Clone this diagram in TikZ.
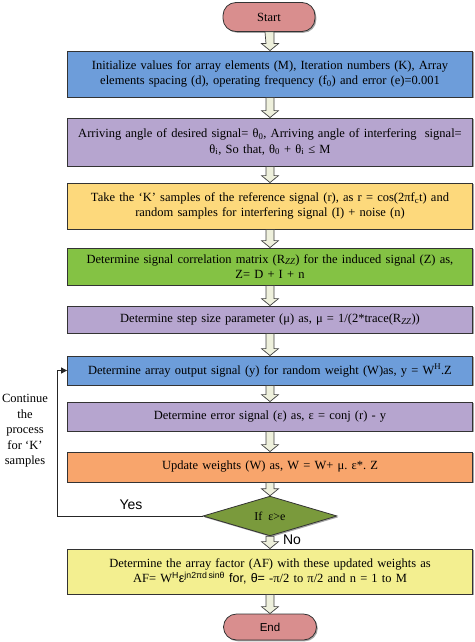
\documentclass[tikz,border=0pt]{standalone}
\usepackage{fontspec}
\setmainfont{Liberation Serif}
\setsansfont{Liberation Sans}
\usetikzlibrary{arrows.meta, calc, positioning, shapes.geometric, shadows}
\frenchspacing

\definecolor{termred}{HTML}{D98E8E}
\definecolor{stepblue}{HTML}{6D9DDA}
\definecolor{steppurple}{HTML}{B6A5CF}
\definecolor{stepgold}{HTML}{FDD97C}
\definecolor{stepgreen}{HTML}{84C244}
\definecolor{steporange}{HTML}{F8A56C}
\definecolor{stepolive}{HTML}{7A9A3C}
\definecolor{steplemon}{HTML}{F3EF90}
\definecolor{arrowcream}{HTML}{EEF0DC}

\begin{document}
\begin{tikzpicture}[x=1pt, y=-1pt,
  box/.style={draw=black!80, line width=0.8pt, minimum width=405pt, text width=399pt,
    align=center, inner sep=0pt, font=\fontsize{12.5}{15.5}\selectfont,
    drop shadow={shadow xshift=1.3pt, shadow yshift=-1.3pt, fill=black!50, opacity=.7}},
  term/.style={draw=black!80, line width=0.8pt, fill=termred, rounded corners=13pt,
    minimum width=92pt, inner sep=0pt,
    drop shadow={shadow xshift=1.3pt, shadow yshift=-1.3pt, fill=black!50, opacity=.7}},
  blk/.style={draw=black!75, line width=0.7pt, fill=arrowcream,
    to path={($(\tikztostart.south)+(-4pt,0)$) -- ($(\tikztotarget.north)+(-4pt,7pt)$)
      -- ++(-4.5pt,0) -- (\tikztotarget.north) -- ++(8.5pt,7pt) -- ++(-4.5pt,0)
      |- ($(\tikztostart.south)+(4pt,0)$) -- cycle}},
  lbl/.style={font=\sffamily\fontsize{14}{15}\selectfont},
  backline/.style={draw=black!85, line width=0.9pt, -{Triangle[length=6pt,width=6pt]}}
]
\useasboundingbox (0,0) rectangle (474,642);

% terminals
\node[term, minimum height=29pt, font=\fontsize{12.5}{14}\selectfont] (start) at (269,17) {Start};
\node[term, minimum height=26pt, minimum width=93pt, font=\sffamily\fontsize{11.5}{13}\selectfont] (end) at (270,627) {End};

% process steps
\node[box, fill=stepblue, minimum height=46pt] (init) at (270,74)
  {Initialize values for array elements (M), Iteration numbers (K), Array\\
   elements spacing (d), operating frequency (f\textsubscript{0}) and error (e)=0.001};
\node[box, fill=steppurple, minimum height=48pt] (angle) at (270,142)
  {Arriving angle of desired signal= θ\textsubscript{0}, Arriving angle of interfering\ \ signal=\\
   θ\textsubscript{i}, So that, θ\textsubscript{0} + θ\textsubscript{i} ≤ M};
\node[box, fill=stepgold, minimum height=46pt] (samples) at (270,206)
  {Take the ‘K’ samples of the reference signal (r), as r = cos(2πf\textsubscript{c}t) and\\
   random samples for interfering signal (I) + noise (n)};
\node[box, fill=stepgreen, minimum height=37pt] (corr) at (270,266.5)
  {Determine signal correlation matrix (R\textsubscript{\itshape ZZ}) for the induced signal (Z) as,\\
   Z= D + I + n};
\node[box, fill=steppurple, minimum height=27pt] (stepsize) at (270,319.5)
  {Determine step size parameter (μ) as, μ = 1/(2*trace(R\textsubscript{\itshape ZZ}))};
\node[box, fill=stepblue, minimum height=29pt] (output) at (270,370.5)
  {Determine array output signal (y) for random weight (W)as, y = W\textsuperscript{H}.Z};
\node[box, fill=steppurple, minimum height=29pt] (error) at (270,416.5)
  {Determine error signal (ε) as, ε = conj (r) - y};
\node[box, fill=steporange, minimum height=30pt] (update) at (270,467)
  {Update weights (W) as, W = W+ μ. ε*. Z};
\node[draw=black!80, line width=0.8pt, fill=stepolive, diamond, minimum width=134pt,
  minimum height=36pt, inner sep=0pt, font=\fontsize{12}{13}\selectfont,
  drop shadow={shadow xshift=1.3pt, shadow yshift=-1.3pt, fill=black!50, opacity=.7}]
  (cond) at (270,516) {If\ \ ε>e};
\node[box, fill=steplemon, minimum height=45pt] (factor) at (270,571.5)
  {Determine the array factor (AF) with these updated weights as\\
   AF= W\textsuperscript{\sffamily H}{\sffamily ε}\textsuperscript{\sffamily jn2πd\,sinθ}
   {\sffamily for, θ=} -π/2 to π/2 and n = 1 to M};

% block arrows
\draw[blk] (start) to (init);
\draw[blk] (init) to (angle);
\draw[blk] (angle) to (samples);
\draw[blk] (samples) to (corr);
\draw[blk] (corr) to (stepsize);
\draw[blk] (stepsize) to (output);
\draw[blk] (output) to (error);
\draw[blk] (error) to (update);
\draw[blk] (update) to (cond);
\draw[blk] (cond) to (factor);
\draw[blk] (factor) to (end);

% loop back
\coordinate (turn) at (57,516);
\draw[backline] (cond.west) -- (turn) |- (output.west);
\node[align=center, font=\fontsize{12.5}{15.5}\selectfont] (cont) at (25,431)
  {Continue\\the\\process\\for ‘K’\\samples};
\node[lbl] (yes) at (131,505) {Yes};
\node[lbl] (no) at (292,540) {No};
\end{tikzpicture}
\end{document}
